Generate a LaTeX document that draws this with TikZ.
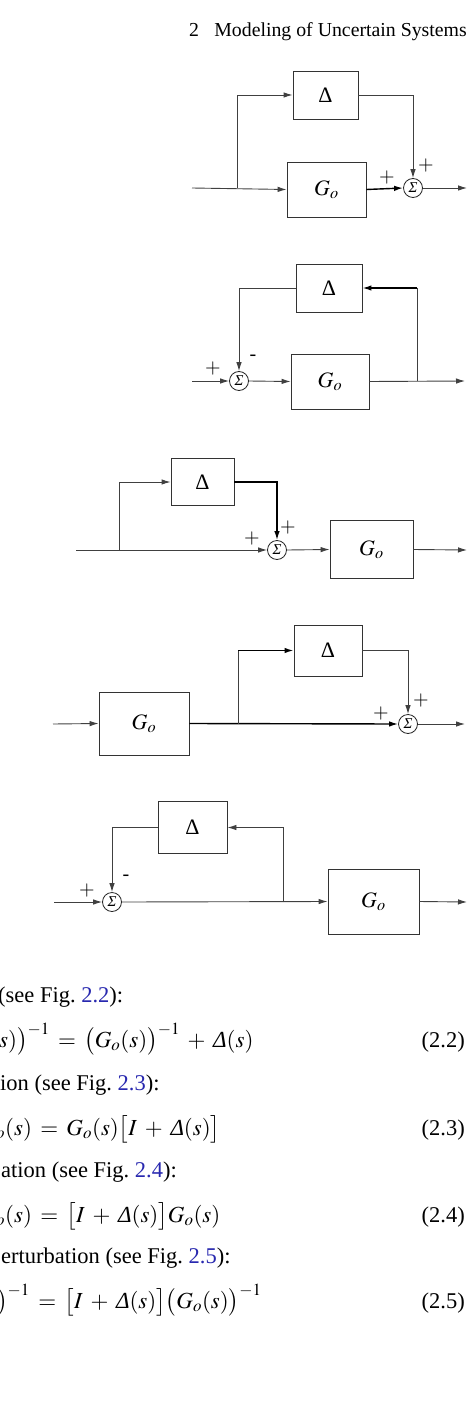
\documentclass[tikz,border=0pt]{standalone}
\usepackage{mathptmx}
\usepackage[no-math]{fontspec}
\setmainfont{Liberation Serif}
\usetikzlibrary{arrows.meta}
\newcommand{\iDelta}{\mbox{\itshape Δ}}
\newcommand{\eqsp}{\medmuskip=6mu\relax\thickmuskip=6.5mu\relax}
\definecolor{linkblue}{RGB}{40,40,175}
\tikzset{
  ln/.style={line width=0.9pt, draw=black!75},
  thk/.style={line width=1.4pt, draw=black},
  arr/.style={-{Latex[length=9pt,width=5.5pt]}},
  blk/.style={draw=black!80, line width=0.9pt, inner sep=0pt, font=\fontsize{22}{26}\selectfont},
  sumnode/.style={circle, draw=black!85, line width=0.8pt, minimum size=19pt, inner sep=0pt, font=\fontsize{15}{17}\selectfont\itshape},
  sgn/.style={inner sep=0pt, font=\fontsize{20}{24}\selectfont},
  txt/.style={anchor=base west, inner sep=0pt, font=\fontsize{22.5}{27}\selectfont},
  eqn/.style={anchor=base west, inner sep=0pt, font=\fontsize{23}{27}\selectfont},
  num/.style={anchor=base east, inner sep=0pt, font=\fontsize{22.5}{27}\selectfont},
  hdr/.style={inner sep=0pt, font=\fontsize{19.8}{23}\selectfont},
}
\begin{document}
\begin{tikzpicture}[x=1pt,y=-1pt]
\useasboundingbox (0,0) rectangle (474,1412);
\clip (0,0) rectangle (474,1412);

% header
\node[hdr, anchor=base west] (hnum) at (189,37) {2};
\node[hdr, anchor=base east] (htitle) at (467,37) {Modeling of Uncertain Systems};

% ---------- diagram 1 ----------
\node[blk, minimum width=65pt, minimum height=48pt] (D1) at (325.5,95) {Δ};
\node[blk, minimum width=79pt, minimum height=55pt] (G1) at (326.5,189.5) {$G_o$};
\node[sumnode] (S1) at (413,188) {Σ};
\coordinate (in1) at (192,188);
\coordinate (b1) at (237,188);
\coordinate (out1) at (467,188);
\draw[ln,arr] (in1) -- (G1.west);
\draw[ln,arr] (b1) |- (D1.west);
\draw[ln,arr] (D1.east) -| (S1.north);
\draw[thk,arr] (G1.east) -- (S1.west);
\draw[ln,arr] (S1.east) -- (out1);
\node[sgn] (p1a) at (387,178) {$+$};
\node[sgn] (p1b) at (426,166) {$+$};

% ---------- diagram 2 ----------
\node[blk, minimum width=66pt, minimum height=48pt] (D2) at (329,288) {Δ};
\node[blk, minimum width=78pt, minimum height=55pt] (G2) at (330,381.5) {$G_o$};
\node[sumnode] (S2) at (239,381) {Σ};
\coordinate (in2) at (192,381);
\coordinate (b2) at (417,381);
\coordinate (c2) at (417,288);
\coordinate (out2) at (465,381);
\draw[ln,arr] (in2) -- (S2.west);
\draw[ln,arr] (S2.east) -- (G2.west);
\draw[ln,arr] (G2.east) -- (out2);
\draw[ln] (b2) -- (c2);
\draw[thk,arr] (c2) -- (D2.east);
\draw[ln,arr] (D2.west) -| (S2.north);
\node[sgn] (p2a) at (213,369) {$+$};
\node[sgn] (m2) at (253,358) {-};

% ---------- diagram 3 ----------
\node[blk, minimum width=63pt, minimum height=47pt] (D3) at (202.5,482) {Δ};
\node[blk, minimum width=83pt, minimum height=58pt] (G3) at (371.5,549.5) {$G_o$};
\node[sumnode] (S3) at (277,550) {Σ};
\coordinate (in3) at (76,550);
\coordinate (b3) at (119,550);
\coordinate (out3) at (467,550);
\draw[ln,arr] (in3) -- (S3.west);
\draw[ln,arr] (b3) |- (D3.west);
\draw[thk,arr] (D3.east) -| (S3.north);
\draw[ln,arr] (S3.east) -- (G3.west);
\draw[ln,arr] (G3.east) -- (out3);
\node[sgn] (p3a) at (252,539) {$+$};
\node[sgn] (p3b) at (288,528) {$+$};

% ---------- diagram 4 ----------
\node[blk, minimum width=90pt, minimum height=63pt] (G4) at (144,723.5) {$G_o$};
\node[blk, minimum width=68pt, minimum height=51pt] (D4) at (328,650.5) {Δ};
\node[sumnode] (S4) at (408,724) {Σ};
\coordinate (in4) at (53,724);
\coordinate (b4) at (238,724);
\coordinate (c4) at (238,650.5);
\coordinate (out4) at (465,724);
\draw[ln,arr] (in4) -- (G4.west);
\draw[thk,arr] (G4.east) -- (S4.west);
\draw[ln] (b4) -- (c4);
\draw[thk,arr] (c4) -- (D4.west);
\draw[ln,arr] (D4.east) -| (S4.north);
\draw[ln,arr] (S4.east) -- (out4);
\node[sgn] (p4a) at (381,713) {$+$};
\node[sgn] (p4b) at (421,700) {$+$};

% ---------- diagram 5 ----------
\node[blk, minimum width=69pt, minimum height=52pt] (D5) at (192.5,827.5) {Δ};
\node[blk, minimum width=91pt, minimum height=65pt] (G5) at (373.5,901.5) {$G_o$};
\node[sumnode] (S5) at (112,902) {Σ};
\coordinate (in5) at (54,902);
\coordinate (b5) at (283,902);
\coordinate (out5) at (467,902);
\draw[ln,arr] (in5) -- (S5.west);
\draw[ln,arr] (S5.east) -- (G5.west);
\draw[ln,arr] (b5) |- (D5.east);
\draw[ln,arr] (D5.west) -| (S5.north);
\draw[ln,arr] (G5.east) -- (out5);
\node[sgn] (p5a) at (87,890) {$+$};
\node[sgn] (m5) at (126,878) {-};

% ---------- text ----------
\node[txt] (t1) at (-2,1002) {(see Fig.~\textcolor{linkblue}{2.2}):};
\node[eqn] (e1) at (-1,1047) {$\eqsp s)\bigr)^{-1} = \bigl(G_o(s)\bigr)^{-1} + \iDelta(s)$};
\node[num] (n1) at (465,1047) {(2.2)};
\node[txt] (t2) at (0,1090) {ion (see Fig.~\textcolor{linkblue}{2.3}):};
\node[eqn] (e2) at (-4,1135) {$\eqsp {}_o(s) = G_o(s)\bigl[I + \iDelta(s)\bigr]$};
\node[num] (n2) at (465,1135) {(2.3)};
\node[txt] (t3) at (1,1177) {ation (see Fig.~\textcolor{linkblue}{2.4}):};
\node[eqn] (e3) at (-4,1222) {$\eqsp {}_o(s) = \bigl[I + \iDelta(s)\bigr]G_o(s)$};
\node[num] (n3) at (465,1222) {(2.4)};
\node[txt] (t4) at (1,1263) {erturbation (see Fig.~\textcolor{linkblue}{2.5}):};
\node[eqn] (e4) at (-3,1308) {$\eqsp \bigr)^{-1} = \bigl[I + \iDelta(s)\bigr]\bigl(G_o(s)\bigr)^{-1}$};
\node[num] (n4) at (465,1308) {(2.5)};
\end{tikzpicture}
\end{document}
